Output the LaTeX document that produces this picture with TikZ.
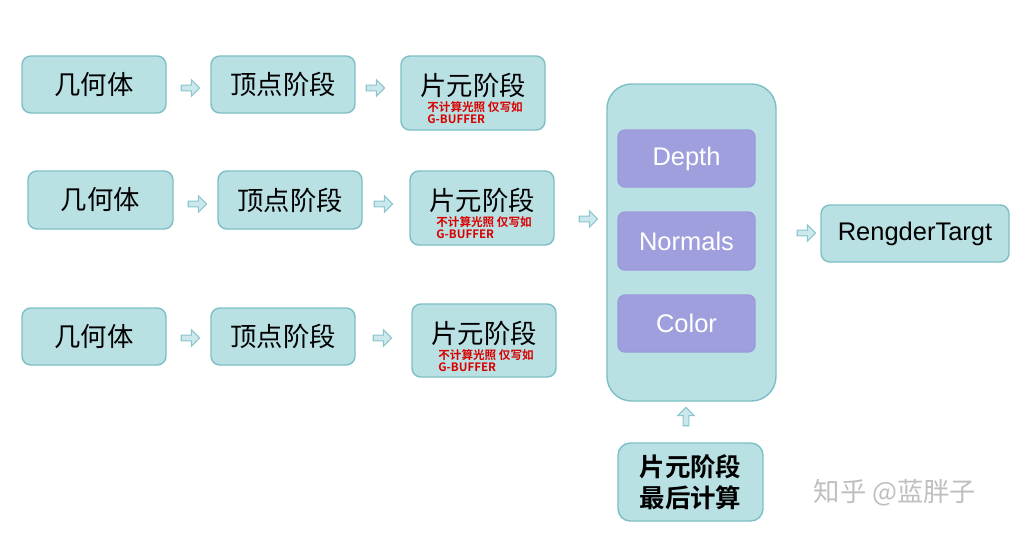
\documentclass[tikz,border=0pt]{standalone}
\usepackage{fontspec}
\setmainfont{Liberation Sans}
\newfontfamily\cjk{Noto Sans CJK SC}
\newfontfamily\cjkb{Noto Sans CJK SC Bold}
\usetikzlibrary{shapes.arrows}
\definecolor{boxfill}{HTML}{B9E0E3}
\definecolor{boxline}{HTML}{7DBFC5}
\definecolor{infill}{HTML}{A09FDD}
\definecolor{inline}{HTML}{9A9ADA}
\definecolor{arrfill}{HTML}{CBE8EC}
\definecolor{arrline}{HTML}{8CC6CC}
\begin{document}
\begin{tikzpicture}[x=0.02cm,y=-0.02cm,
  box/.style={draw=boxline,fill=boxfill,line width=0.8pt,rounded corners=5pt},
  inbox/.style={draw=inline,fill=infill,line width=0.8pt,rounded corners=4pt},
  barrow/.style={single arrow,draw=arrline,fill=arrfill,line width=0.6pt,minimum height=10.5pt,minimum width=9.5pt,single arrow head extend=2pt,single arrow head indent=0pt,inner sep=0.8pt},
  lbl/.style={font=\cjk\fontsize{15}{17}\selectfont,text=black},
  red/.style={font=\cjkb\fontsize{6.6}{6.8}\selectfont,text=red!85!black,align=left,inner sep=0pt}]
\useasboundingbox (0,0) rectangle (1014,535);
\foreach \n/\xa/\ya/\xb/\yb in {a1/22/56/166/113,b1/211/56/355/113,c1/401/56/545/130,
  a2/28/171/173/229,b2/218/171/362/229,c2/410/171/554/245,
  a3/22/308/166/365,b3/211/308/355/365,c3/412/304/556/377}
  \draw[box] (\xa,\ya) rectangle (\xb,\yb) coordinate[pos=0.5] (\n);
\foreach \n in {a1,a2,a3} \node[lbl] at (\n) {几何体};
\foreach \n in {b1,b2,b3} \node[lbl] at (\n) {顶点阶段};
\foreach \n in {c1,c2,c3} {
  \node[lbl] at ([yshift=0.15cm]\n) {片元阶段};
  \node[red,anchor=north west] at ([xshift=-0.92cm,yshift=-0.17cm]\n) {不计算光照 仅写如\\G-BUFFER};
}
\foreach \x/\y in {189/88,374/88,196/204,382/204,189/338,381/338,587/219,805/233}
  \node[barrow] at (\x,\y) {};
\node[barrow,shape border rotate=90] (up) at (686,418) {};
\draw[box,rounded corners=14pt] (607,84) rectangle (776,401);
\draw[inbox] (618,130) rectangle (755,187);
\draw[inbox] (618,212) rectangle (755,270);
\draw[inbox] (618,295) rectangle (755,352);
\node[text=white,font=\fontsize{14.5}{16}\selectfont] at (686.5,158.5) {Depth};
\node[text=white,font=\fontsize{14.5}{16}\selectfont] at (686.5,241) {Normals};
\node[text=white,font=\fontsize{14.5}{16}\selectfont] at (686.5,323.5) {Color};
\draw[box] (821,205) rectangle (1009,262) coordinate[pos=0.5] (rt);
\node[font=\fontsize{14.5}{16}\selectfont] at (rt) {RengderTargt};
\draw[box,rounded corners=7pt] (618,443) rectangle (763,521) coordinate[pos=0.5] (fin);
\node[font=\cjkb\fontsize{14.5}{18}\selectfont,align=center] at (fin) {片元阶段\\最后计算};
\node[font=\cjk\fontsize{15}{17}\selectfont,text=black!25] (wm) at (895,493) {知乎 @蓝胖子};
\end{tikzpicture}
\end{document}
